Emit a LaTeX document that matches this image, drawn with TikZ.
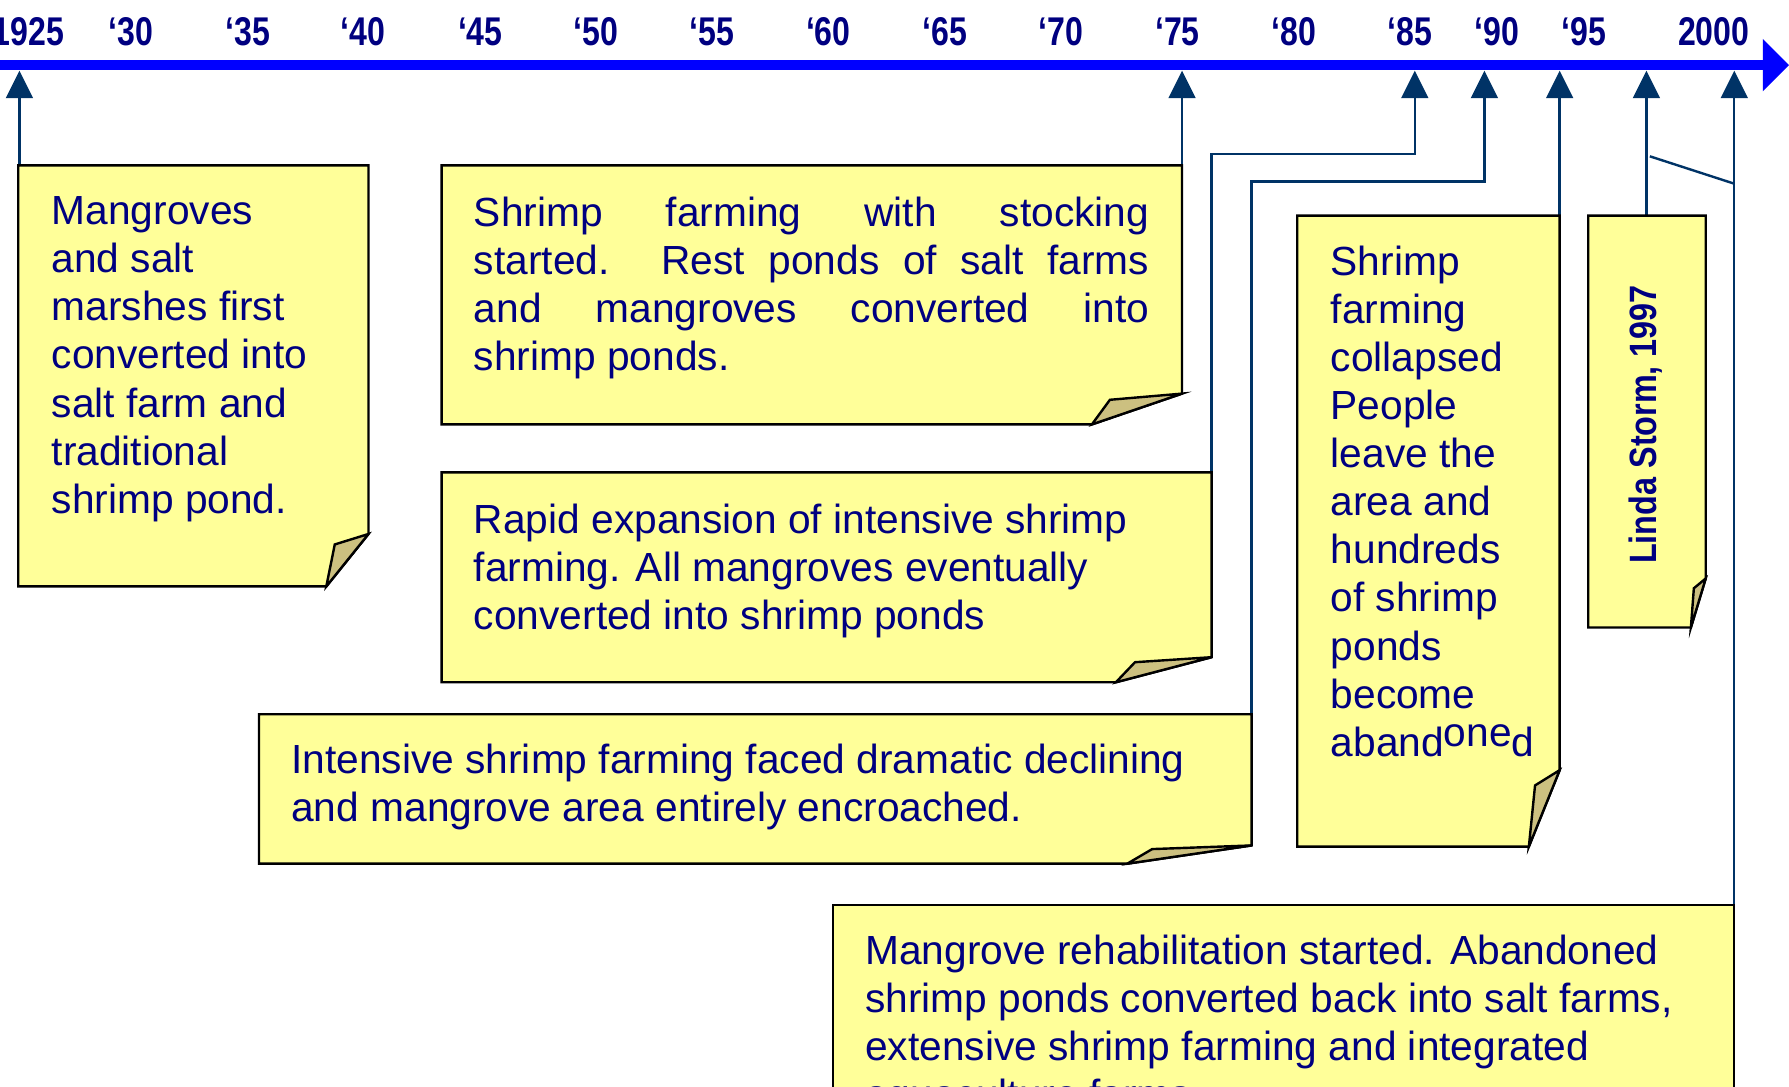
\documentclass[tikz,border=0pt]{standalone}
\usepackage{fontspec}
\setmainfont{Liberation Sans}
\definecolor{navy}{RGB}{0,0,128}
\definecolor{markc}{RGB}{0,51,102}
\definecolor{paper}{RGB}{255,255,153}
\definecolor{foldc}{RGB}{204,192,128}
\tikzset{
 yr/.style={font=\fontsize{20}{20}\selectfont\bfseries, text=navy, inner sep=0},
 txt/.style={anchor=north west, inner sep=0, text=navy, font=\fontsize{20.3}{24}\selectfont, align=left},
 conn/.style={draw=markc, line width=1.2pt},
}
\newcommand{\notebox}[6]{%
 \draw[fill=paper, line width=1.2pt] (#1,#2)--(#3,#2)--(#3,#6)--(#5,#4)--(#1,#4)--cycle;
 \draw[fill=foldc, line width=1.2pt] (#5,#4)--(#3,#6)--({#5+0.2*(#3-#5)},{#6+0.2*(#4-#6)})--cycle;}
\newcommand{\tmark}[2]{\fill[markc] (#1-12,86)--(#1+12,86)--(#1,62)--cycle; \coordinate (#2) at (#1,86);}
\begin{document}
\begin{tikzpicture}[x=0.02cm,y=-0.02cm]
\useasboundingbox (0,0) rectangle (1568,952);
\clip (0,0) rectangle (1568,952);
% axis
\draw[blue, line width=5.2pt] (0,57) -- (1548,57);
\fill[blue] (1545,34) -- (1568,57) -- (1545,80) -- cycle;
\foreach \x/\t in {25/1925,115/‘30,217/‘35,318/‘40,421/‘45,522/‘50,624/‘55,726/‘60,828/‘65,930/‘70,1032/‘75,1134/‘80,1236/‘85,1312/‘90,1388/‘95,1502/2000}
  \node[yr] at (\x,28) {\scalebox{0.8}[1]{\t}};
\tmark{17}{m1}\tmark{1036}{m2}\tmark{1240}{m3}\tmark{1301}{m4}\tmark{1367}{m5}\tmark{1443}{m6}\tmark{1520}{m7}
% connectors
\draw[conn] (m1) -- (17,145);
\draw[conn] (m2) -- (1036,145);
\draw[conn] (m3) -- (1240,135) -- (1062,135) -- (1062,414);
\draw[conn] (m4) -- (1301,159) -- (1097,159) -- (1097,626);
\draw[conn] (m5) -- (1367,189);
\draw[conn] (m6) -- (1443,189);
\draw[conn] (m7) -- (1520,793);
\draw[conn] (1446,137) -- (1520,161);
% boxes
\notebox{16}{145}{323}{514}{286}{468}
\notebox{387}{145}{1036}{372}{957}{345}
\notebox{387}{414}{1062}{598}{978}{576}
\notebox{227}{626}{1097}{757}{988}{741}
\notebox{1137}{189}{1367}{742}{1340}{675}
\notebox{1392}{189}{1495}{550}{1482}{507}
\draw[fill=paper, line width=1.2pt] (730,1000)--(730,793)--(1520,793)--(1520,1000);
% texts
\node[txt] (t1) at (45,172) {Mangroves\\and salt\\marshes first\\converted into\\salt farm and\\traditional\\shrimp pond.};
\node[txt, align=justify, text width=11.84cm] (t2) at (415,172) {Shrimp farming with stocking\linebreak started. Rest ponds of salt farms\linebreak and mangroves converted into\linebreak shrimp ponds.};
\node[txt] (t3) at (415,441) {Rapid expansion of intensive shrimp\\farming. All mangroves eventually\\converted into shrimp ponds};
\node[txt] (t4) at (255,652) {Intensive shrimp farming faced dramatic declining\\and mangrove area entirely encroached.};
\node[txt] (t5) at (1166,215) {Shrimp\\farming\\collapsed\\People\\leave the\\area and\\hundreds\\of shrimp\\ponds\\become\\aband\raisebox{0.45ex}{one}d};
\node[txt] (t7) at (758,819) {Mangrove rehabilitation started. Abandoned\\shrimp ponds converted back into salt farms,\\extensive shrimp farming and integrated\\aquaculture farms.};
\node[rotate=90, text=navy, inner sep=0, font=\fontsize{19}{19}\selectfont\bfseries] (t6) at (1442,372) {\scalebox{0.85}[1]{Linda Storm, 1997}};
\end{tikzpicture}
\end{document}
